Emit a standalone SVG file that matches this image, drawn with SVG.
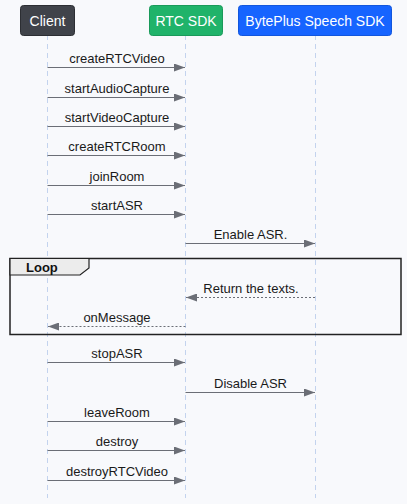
<svg xmlns="http://www.w3.org/2000/svg" width="407" height="504" viewBox="0 0 407 504">
<style>
text{font-family:"Liberation Sans",Arial,sans-serif;}
.hdr{font-size:14px;fill:#ffffff;text-anchor:middle;}
.lbl{font-size:13px;fill:#1a1a1a;text-anchor:middle;}
.life{stroke:#c3d3ee;stroke-width:1;stroke-dasharray:5 4;fill:none;}
.msg{stroke:#6b6e76;stroke-width:1;fill:none;}
.ret{stroke:#6b6e76;stroke-width:1;stroke-dasharray:2 2;fill:none;}
</style>
<defs>
<marker id="ah" viewBox="0 0 11 8" refX="11" refY="4" markerWidth="11" markerHeight="8" markerUnits="userSpaceOnUse" orient="auto">
<path d="M0,0 L11,4 L0,8 Z" fill="#6b6e76"/>
</marker>
</defs>
<rect width="407" height="504" fill="#f8f9fc"/>
<g id="lifelines">
<line class="life" x1="47.5" y1="35" x2="47.5" y2="498"/>
<line class="life" x1="185.5" y1="35" x2="185.5" y2="498"/>
<line class="life" x1="315.5" y1="35" x2="315.5" y2="498"/>
</g>
<g id="client">
<rect x="20.5" y="5.5" width="54" height="30" rx="3" fill="#40434a" stroke="#2c2e33"/>
<text class="hdr" x="47.5" y="26">Client</text>
</g>
<g id="rtcsdk">
<rect x="149.5" y="5.5" width="73" height="30" rx="3" fill="#20b36a" stroke="#1a9a5a"/>
<text class="hdr" x="186" y="26">RTC SDK</text>
</g>
<g id="byteplus">
<rect x="238.5" y="5.5" width="153" height="30" rx="3" fill="#1664ff" stroke="#1256dd"/>
<text class="hdr" x="315" y="26">BytePlus Speech SDK</text>
</g>
<g id="loop">
<rect x="10" y="258.5" width="391" height="76" fill="none" stroke="#222" stroke-width="1.5"/>
<path d="M10,258.5 H89 V268 L80,275 H10 Z" fill="#ececec" stroke="#222" stroke-width="1.2"/>
<text x="26" y="272" font-size="13" font-weight="bold" fill="#111">Loop</text>
</g>
<g id="connectors">
<line class="msg" x1="47.5" y1="67.5" x2="185" y2="67.5" marker-end="url(#ah)"/>
<text class="lbl" x="117" y="62.5">createRTCVideo</text>
<line class="msg" x1="47.5" y1="97.5" x2="185" y2="97.5" marker-end="url(#ah)"/>
<text class="lbl" x="117" y="92.5">startAudioCapture</text>
<line class="msg" x1="47.5" y1="126.5" x2="185" y2="126.5" marker-end="url(#ah)"/>
<text class="lbl" x="117" y="121.5">startVideoCapture</text>
<line class="msg" x1="47.5" y1="155.5" x2="185" y2="155.5" marker-end="url(#ah)"/>
<text class="lbl" x="117" y="150.5">createRTCRoom</text>
<line class="msg" x1="47.5" y1="185.5" x2="185" y2="185.5" marker-end="url(#ah)"/>
<text class="lbl" x="117" y="180.5">joinRoom</text>
<line class="msg" x1="47.5" y1="214.5" x2="185" y2="214.5" marker-end="url(#ah)"/>
<text class="lbl" x="117" y="209.5">startASR</text>
<line class="msg" x1="185.5" y1="243.5" x2="315" y2="243.5" marker-end="url(#ah)"/>
<text class="lbl" x="250.5" y="238.5">Enable ASR.</text>
<line class="ret" x1="315" y1="297.5" x2="186" y2="297.5" marker-end="url(#ah)"/>
<text class="lbl" x="251" y="292.5">Return the texts.</text>
<line class="ret" x1="185.5" y1="326.5" x2="48" y2="326.5" marker-end="url(#ah)"/>
<text class="lbl" x="117" y="321.5">onMessage</text>
<line class="msg" x1="47.5" y1="362.5" x2="185" y2="362.5" marker-end="url(#ah)"/>
<text class="lbl" x="117" y="357.5">stopASR</text>
<line class="msg" x1="185.5" y1="392.5" x2="315" y2="392.5" marker-end="url(#ah)"/>
<text class="lbl" x="250.5" y="387.5">Disable ASR</text>
<line class="msg" x1="47.5" y1="421.5" x2="185" y2="421.5" marker-end="url(#ah)"/>
<text class="lbl" x="117" y="416.5">leaveRoom</text>
<line class="msg" x1="47.5" y1="450.5" x2="185" y2="450.5" marker-end="url(#ah)"/>
<text class="lbl" x="117" y="445.5">destroy</text>
<line class="msg" x1="47.5" y1="480.5" x2="185" y2="480.5" marker-end="url(#ah)"/>
<text class="lbl" x="117" y="475.5">destroyRTCVideo</text>
</g>
</svg>
